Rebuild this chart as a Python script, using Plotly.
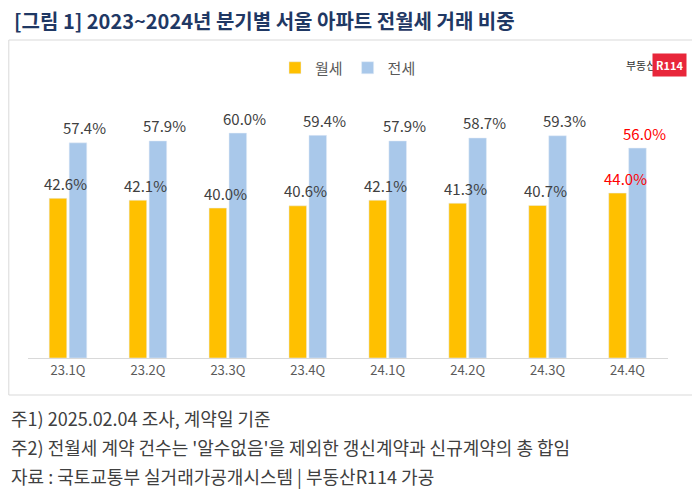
import plotly.graph_objects as go

quarters = ["23.1Q","23.2Q","23.3Q","23.4Q","24.1Q","24.2Q","24.3Q","24.4Q"]
wolse = [42.6,42.1,40.0,40.6,42.1,41.3,40.7,44.0]
jeonse = [57.4,57.9,60.0,59.4,57.9,58.7,59.3,56.0]
label_colors = ["#404040"]*7 + ["#FF0000"]

fig = go.Figure()
fig.add_bar(x=quarters, y=wolse, name="월세", marker_color="#FFC000")
fig.add_bar(x=quarters, y=jeonse, name="전세", marker_color="#A9C8EA")

ann = []
for q, w, j, c in zip(quarters, wolse, jeonse, label_colors):
    ann.append(dict(x=q, y=w, text=f"{w:.1f}%", showarrow=False, xref="x", yref="y",
                    xshift=-2, yshift=15, font=dict(size=15, color=c)))
    ann.append(dict(x=q, y=j, text=f"{j:.1f}%", showarrow=False, xref="x", yref="y",
                    xshift=17, yshift=15, font=dict(size=15, color=c)))

foot = dict(size=18, color="#404040")
fig.update_layout(
    width=700, height=502, plot_bgcolor="white", paper_bgcolor="white",
    margin=dict(l=20, r=40, t=100, b=152),
    barmode="group", bargap=0.5, bargroupgap=0.12,
    font=dict(family="Noto Sans CJK KR, sans-serif", color="#404040"),
    showlegend=True,
    legend=dict(orientation="h", x=0.5, xanchor="center", y=1.16, yanchor="middle",
                font=dict(size=15, color="#595959"), itemwidth=30),
    xaxis=dict(showline=True, linecolor="#D9D9D9", tickfont=dict(size=13, color="#595959"),
               ticks=""),
    yaxis=dict(range=[0, 66.7], visible=False),
    annotations=ann + [
        dict(text="<b>[그림 1] 2023~2024년 분기별 서울 아파트 전월세 거래 비중</b>", xref="paper", yref="paper",
             x=-0.025, y=1.35, yanchor="middle", xanchor="left", showarrow=False,
             font=dict(size=20, color="#1F3864")),
        dict(text="부동산", xref="paper", yref="paper", x=0.985, y=1.172, xanchor="right",
             yanchor="middle", showarrow=False, font=dict(size=11, color="#333")),
        dict(text="<b>R114</b>", xref="paper", yref="paper", x=1.03, y=1.172, xanchor="right",
             yanchor="middle", showarrow=False, bgcolor="#E8263A", font=dict(size=11, color="white"),
             borderpad=3),
        dict(text="주1) 2025.02.04 조사, 계약일 기준", xref="paper", yref="paper", x=-0.03, xanchor="left",
             y=-0.24, yanchor="middle", showarrow=False, font=foot),
        dict(text="주2) 전월세 계약 건수는 '알수없음'을 제외한 갱신계약과 신규계약의 총 합임", xref="paper", yref="paper",
             x=-0.03, xanchor="left", y=-0.356, yanchor="middle", showarrow=False, font=foot),
        dict(text="자료 : 국토교통부 실거래가공개시스템 | 부동산R114 가공", xref="paper", yref="paper",
             x=-0.03, xanchor="left", y=-0.472, yanchor="middle", showarrow=False, font=foot),
    ],
    shapes=[dict(type="rect", xref="paper", yref="paper", x0=-0.03, x1=1.04, y0=-0.148, y1=1.272,
                 line=dict(color="#D9D9D9", width=1))],
)
fig.write_html("out.html")
